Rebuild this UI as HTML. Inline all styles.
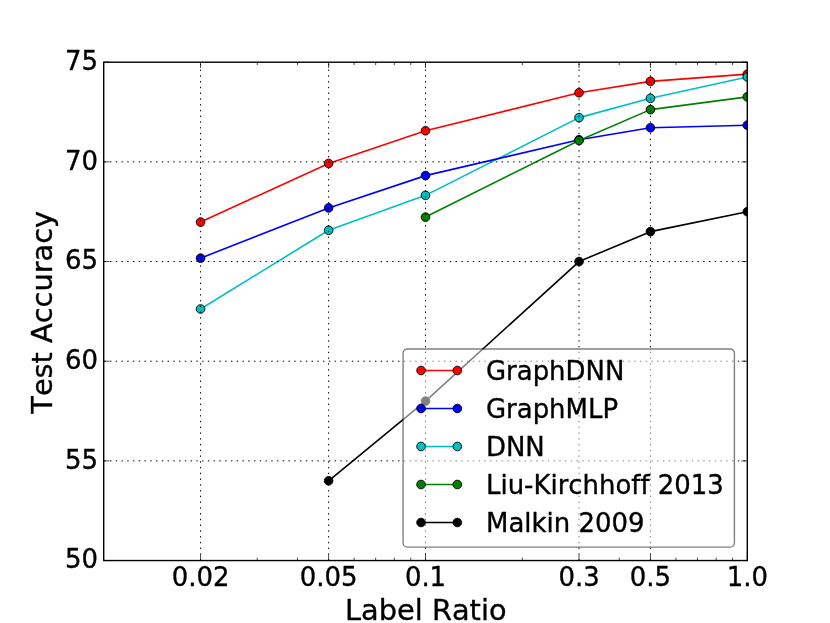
<!DOCTYPE html>
<html lang="en"><head><meta charset="utf-8"><title>Test Accuracy vs Label Ratio</title>
<style>html,body{margin:0;padding:0;background:#fff;overflow:hidden}svg{display:block}text{font-family:"DejaVu Sans","Liberation Sans",sans-serif;fill:#000;stroke:#000;stroke-width:0.35px;stroke-linejoin:round;font-kerning:none;font-variant-ligatures:none}</style></head><body>
<svg width="830" height="623" viewBox="0 0 830 623">
<rect x="0" y="0" width="830" height="623" fill="#fff"/>
<defs><clipPath id="ax"><rect x="103.7" y="62.2" width="643.60" height="498.35"/></clipPath></defs>
<g clip-path="url(#ax)">
<polyline points="200.57,222.07 328.63,163.46 425.50,130.77 579.04,92.70 650.43,81.34 747.30,74.16" fill="none" stroke="#ff0000" stroke-width="1.6" stroke-linejoin="round"/>
<circle cx="200.57" cy="222.07" r="4.325" fill="#ff0000" stroke="#000" stroke-width="0.9"/>
<circle cx="328.63" cy="163.46" r="4.325" fill="#ff0000" stroke="#000" stroke-width="0.9"/>
<circle cx="425.50" cy="130.77" r="4.325" fill="#ff0000" stroke="#000" stroke-width="0.9"/>
<circle cx="579.04" cy="92.70" r="4.325" fill="#ff0000" stroke="#000" stroke-width="0.9"/>
<circle cx="650.43" cy="81.34" r="4.325" fill="#ff0000" stroke="#000" stroke-width="0.9"/>
<circle cx="747.30" cy="74.16" r="4.325" fill="#ff0000" stroke="#000" stroke-width="0.9"/>
<polyline points="200.57,308.98 328.63,230.24 425.50,195.36 579.04,117.62 650.43,98.28 747.30,76.95" fill="none" stroke="#00bfbf" stroke-width="1.6" stroke-linejoin="round"/>
<circle cx="200.57" cy="308.98" r="4.325" fill="#00bfbf" stroke="#000" stroke-width="0.9"/>
<circle cx="328.63" cy="230.24" r="4.325" fill="#00bfbf" stroke="#000" stroke-width="0.9"/>
<circle cx="425.50" cy="195.36" r="4.325" fill="#00bfbf" stroke="#000" stroke-width="0.9"/>
<circle cx="579.04" cy="117.62" r="4.325" fill="#00bfbf" stroke="#000" stroke-width="0.9"/>
<circle cx="650.43" cy="98.28" r="4.325" fill="#00bfbf" stroke="#000" stroke-width="0.9"/>
<circle cx="747.30" cy="76.95" r="4.325" fill="#00bfbf" stroke="#000" stroke-width="0.9"/>
<polyline points="200.57,258.15 328.63,207.92 425.50,175.62 579.04,139.74 650.43,127.78 747.30,125.19" fill="none" stroke="#0000ff" stroke-width="1.6" stroke-linejoin="round"/>
<circle cx="200.57" cy="258.15" r="4.325" fill="#0000ff" stroke="#000" stroke-width="0.9"/>
<circle cx="328.63" cy="207.92" r="4.325" fill="#0000ff" stroke="#000" stroke-width="0.9"/>
<circle cx="425.50" cy="175.62" r="4.325" fill="#0000ff" stroke="#000" stroke-width="0.9"/>
<circle cx="579.04" cy="139.74" r="4.325" fill="#0000ff" stroke="#000" stroke-width="0.9"/>
<circle cx="650.43" cy="127.78" r="4.325" fill="#0000ff" stroke="#000" stroke-width="0.9"/>
<circle cx="747.30" cy="125.19" r="4.325" fill="#0000ff" stroke="#000" stroke-width="0.9"/>
<polyline points="425.50,217.09 579.04,140.54 650.43,109.64 747.30,96.89" fill="none" stroke="#008000" stroke-width="1.6" stroke-linejoin="round"/>
<circle cx="425.50" cy="217.09" r="4.325" fill="#008000" stroke="#000" stroke-width="0.9"/>
<circle cx="579.04" cy="140.54" r="4.325" fill="#008000" stroke="#000" stroke-width="0.9"/>
<circle cx="650.43" cy="109.64" r="4.325" fill="#008000" stroke="#000" stroke-width="0.9"/>
<circle cx="747.30" cy="96.89" r="4.325" fill="#008000" stroke="#000" stroke-width="0.9"/>
<polyline points="328.63,480.81 425.50,401.08 579.04,261.54 650.43,231.64 747.30,211.70" fill="none" stroke="#000000" stroke-width="1.6" stroke-linejoin="round"/>
<circle cx="328.63" cy="480.81" r="4.325" fill="#000000" stroke="#000" stroke-width="0.9"/>
<circle cx="425.50" cy="401.08" r="4.325" fill="#000000" stroke="#000" stroke-width="0.9"/>
<circle cx="579.04" cy="261.54" r="4.325" fill="#000000" stroke="#000" stroke-width="0.9"/>
<circle cx="650.43" cy="231.64" r="4.325" fill="#000000" stroke="#000" stroke-width="0.9"/>
<circle cx="747.30" cy="211.70" r="4.325" fill="#000000" stroke="#000" stroke-width="0.9"/>
</g>
<g stroke="#000" stroke-width="1.0" stroke-dasharray="1.44 4.32" fill="none">
<line x1="200.57" y1="560.55" x2="200.57" y2="62.2"/>
<line x1="328.63" y1="560.55" x2="328.63" y2="62.2"/>
<line x1="425.50" y1="560.55" x2="425.50" y2="62.2"/>
<line x1="579.04" y1="560.55" x2="579.04" y2="62.2"/>
<line x1="650.43" y1="560.55" x2="650.43" y2="62.2"/>
<line x1="103.7" y1="460.88" x2="747.3" y2="460.88" stroke-dashoffset="-0.5"/>
<line x1="103.7" y1="361.21" x2="747.3" y2="361.21" stroke-dashoffset="-0.5"/>
<line x1="103.7" y1="261.54" x2="747.3" y2="261.54" stroke-dashoffset="-0.5"/>
<line x1="103.7" y1="161.87" x2="747.3" y2="161.87" stroke-dashoffset="-0.5"/>
</g>
<g stroke="#000" stroke-width="0.72" fill="none">
<line x1="200.57" y1="560.55" x2="200.57" y2="554.79"/>
<line x1="200.57" y1="62.2" x2="200.57" y2="67.96"/>
<line x1="328.63" y1="560.55" x2="328.63" y2="554.79"/>
<line x1="328.63" y1="62.2" x2="328.63" y2="67.96"/>
<line x1="425.50" y1="560.55" x2="425.50" y2="554.79"/>
<line x1="425.50" y1="62.2" x2="425.50" y2="67.96"/>
<line x1="579.04" y1="560.55" x2="579.04" y2="554.79"/>
<line x1="579.04" y1="62.2" x2="579.04" y2="67.96"/>
<line x1="650.43" y1="560.55" x2="650.43" y2="554.79"/>
<line x1="650.43" y1="62.2" x2="650.43" y2="67.96"/>
<line x1="747.30" y1="560.55" x2="747.30" y2="554.79"/>
<line x1="747.30" y1="62.2" x2="747.30" y2="67.96"/>
<line x1="257.24" y1="560.55" x2="257.24" y2="557.67"/>
<line x1="257.24" y1="62.2" x2="257.24" y2="65.08"/>
<line x1="297.44" y1="560.55" x2="297.44" y2="557.67"/>
<line x1="297.44" y1="62.2" x2="297.44" y2="65.08"/>
<line x1="354.11" y1="560.55" x2="354.11" y2="557.67"/>
<line x1="354.11" y1="62.2" x2="354.11" y2="65.08"/>
<line x1="375.65" y1="560.55" x2="375.65" y2="557.67"/>
<line x1="375.65" y1="62.2" x2="375.65" y2="65.08"/>
<line x1="394.31" y1="560.55" x2="394.31" y2="557.67"/>
<line x1="394.31" y1="62.2" x2="394.31" y2="65.08"/>
<line x1="410.78" y1="560.55" x2="410.78" y2="557.67"/>
<line x1="410.78" y1="62.2" x2="410.78" y2="65.08"/>
<line x1="522.37" y1="560.55" x2="522.37" y2="557.67"/>
<line x1="522.37" y1="62.2" x2="522.37" y2="65.08"/>
<line x1="619.24" y1="560.55" x2="619.24" y2="557.67"/>
<line x1="619.24" y1="62.2" x2="619.24" y2="65.08"/>
<line x1="675.91" y1="560.55" x2="675.91" y2="557.67"/>
<line x1="675.91" y1="62.2" x2="675.91" y2="65.08"/>
<line x1="697.45" y1="560.55" x2="697.45" y2="557.67"/>
<line x1="697.45" y1="62.2" x2="697.45" y2="65.08"/>
<line x1="716.11" y1="560.55" x2="716.11" y2="557.67"/>
<line x1="716.11" y1="62.2" x2="716.11" y2="65.08"/>
<line x1="732.58" y1="560.55" x2="732.58" y2="557.67"/>
<line x1="732.58" y1="62.2" x2="732.58" y2="65.08"/>
<line x1="103.7" y1="560.55" x2="109.46" y2="560.55"/>
<line x1="747.3" y1="560.55" x2="741.54" y2="560.55"/>
<line x1="103.7" y1="460.88" x2="109.46" y2="460.88"/>
<line x1="747.3" y1="460.88" x2="741.54" y2="460.88"/>
<line x1="103.7" y1="361.21" x2="109.46" y2="361.21"/>
<line x1="747.3" y1="361.21" x2="741.54" y2="361.21"/>
<line x1="103.7" y1="261.54" x2="109.46" y2="261.54"/>
<line x1="747.3" y1="261.54" x2="741.54" y2="261.54"/>
<line x1="103.7" y1="161.87" x2="109.46" y2="161.87"/>
<line x1="747.3" y1="161.87" x2="741.54" y2="161.87"/>
<line x1="103.7" y1="62.20" x2="109.46" y2="62.20"/>
<line x1="747.3" y1="62.20" x2="741.54" y2="62.20"/>
</g>
<rect x="103.7" y="62.2" width="643.60" height="498.35" fill="none" stroke="#000" stroke-width="1.4"/>
<g font-size="25.94px">
<text x="200.57" y="586.4" text-anchor="middle">0.02</text>
<text x="328.63" y="586.4" text-anchor="middle">0.05</text>
<text x="425.50" y="586.4" text-anchor="middle">0.1</text>
<text x="579.04" y="586.4" text-anchor="middle">0.3</text>
<text x="650.43" y="586.4" text-anchor="middle">0.5</text>
<text x="747.30" y="586.4" text-anchor="middle">1.0</text>
<text x="98.0" y="568.45" text-anchor="end">50</text>
<text x="98.0" y="468.78" text-anchor="end">55</text>
<text x="98.0" y="369.11" text-anchor="end">60</text>
<text x="98.0" y="269.44" text-anchor="end">65</text>
<text x="98.0" y="169.77" text-anchor="end">70</text>
<text x="98.0" y="70.10" text-anchor="end">75</text>
</g>
<text x="425.8" y="619.5" font-size="28.82px" text-anchor="middle">Label Ratio</text>
<text transform="translate(51.6,312.3) rotate(-90)" font-size="28.82px" text-anchor="middle">Test Accuracy</text>
<rect x="403.06" y="349.06" width="331.34" height="198.04" rx="4.3" ry="4.3" fill="#fff" fill-opacity="0.5" stroke="#000" stroke-opacity="0.5" stroke-width="1.4"/>
<line x1="421.04" y1="370.50" x2="457.3" y2="370.50" stroke="#ff0000" stroke-width="1.3"/>
<circle cx="421.04" cy="370.50" r="4.325" fill="#ff0000" stroke="#000" stroke-width="0.9"/>
<circle cx="457.3" cy="370.50" r="4.325" fill="#ff0000" stroke="#000" stroke-width="0.9"/>
<text x="486.0" y="379.90" font-size="25.94px">GraphDNN</text>
<line x1="421.04" y1="408.50" x2="457.3" y2="408.50" stroke="#0000ff" stroke-width="1.3"/>
<circle cx="421.04" cy="408.50" r="4.325" fill="#0000ff" stroke="#000" stroke-width="0.9"/>
<circle cx="457.3" cy="408.50" r="4.325" fill="#0000ff" stroke="#000" stroke-width="0.9"/>
<text x="486.0" y="417.90" font-size="25.94px">GraphMLP</text>
<line x1="421.04" y1="446.50" x2="457.3" y2="446.50" stroke="#00bfbf" stroke-width="1.3"/>
<circle cx="421.04" cy="446.50" r="4.325" fill="#00bfbf" stroke="#000" stroke-width="0.9"/>
<circle cx="457.3" cy="446.50" r="4.325" fill="#00bfbf" stroke="#000" stroke-width="0.9"/>
<text x="486.0" y="455.90" font-size="25.94px">DNN</text>
<line x1="421.04" y1="484.50" x2="457.3" y2="484.50" stroke="#008000" stroke-width="1.3"/>
<circle cx="421.04" cy="484.50" r="4.325" fill="#008000" stroke="#000" stroke-width="0.9"/>
<circle cx="457.3" cy="484.50" r="4.325" fill="#008000" stroke="#000" stroke-width="0.9"/>
<text x="486.0" y="493.90" font-size="25.94px">Liu-Kirchhoff 2013</text>
<line x1="421.04" y1="522.50" x2="457.3" y2="522.50" stroke="#000000" stroke-width="1.3"/>
<circle cx="421.04" cy="522.50" r="4.325" fill="#000000" stroke="#000" stroke-width="0.9"/>
<circle cx="457.3" cy="522.50" r="4.325" fill="#000000" stroke="#000" stroke-width="0.9"/>
<text x="486.0" y="531.90" font-size="25.94px">Malkin 2009</text>
</svg></body></html>
